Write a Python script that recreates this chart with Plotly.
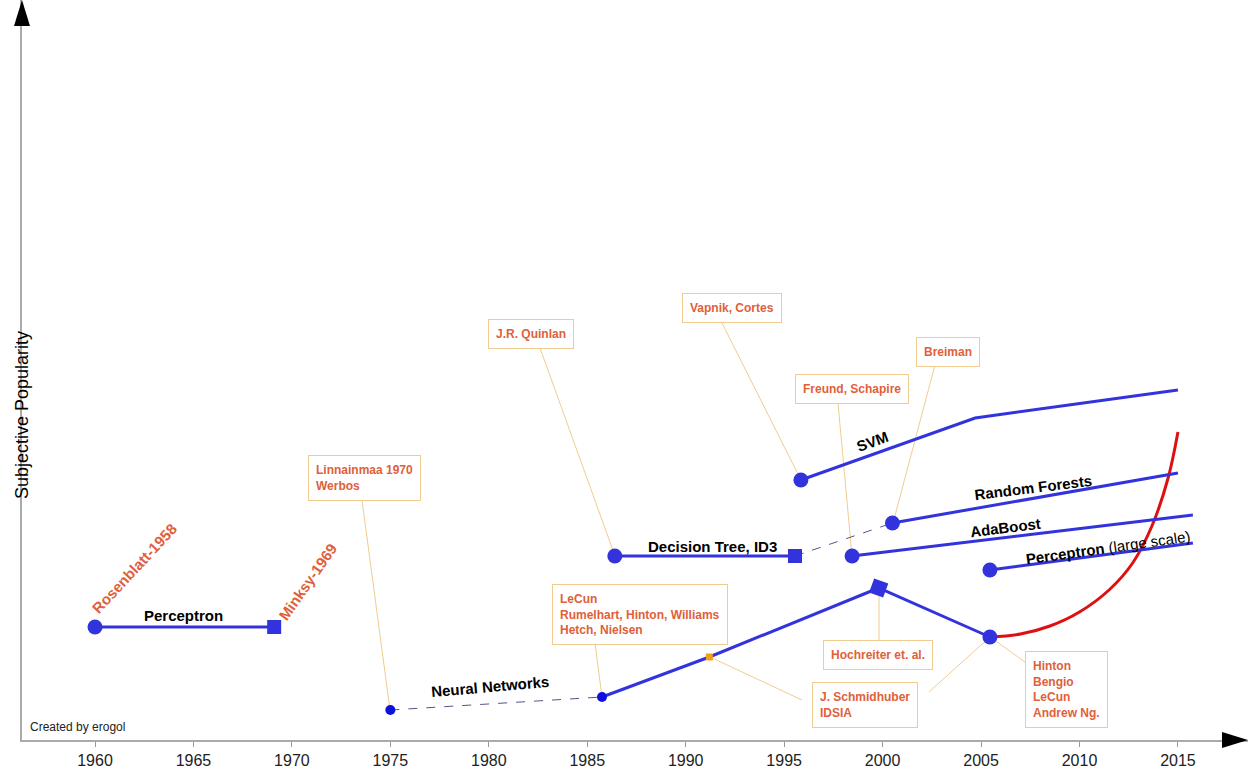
import plotly.graph_objects as go
import numpy as np

BLUE = '#3333dd'
ORANGE = '#e0603a'
LEAD = '#f0cc90'

perc_x = [1960.0, 1969.1]
perc_y = [113, 113]
nn_dot_x = [1975.0, 1985.75]
nn_dot_y = [30, 43]
nn_x = [1985.75, 1991.2, 1999.8, 2005.45]
nn_y = [43, 83, 152, 103]
deep_x = [2005.45, 2007, 2008.5, 2010, 2011.5, 2012.7, 2013.7, 2014.5, 2015]
deep_y = [103, 106, 114, 128, 150, 177, 215, 262, 308]
dt_x = [1986.4, 1995.55]
dt_y = [184, 184]
dt_dash_x = [1995.55, 2000.5]
dt_dash_y = [184, 217]
svm_x = [1995.85, 2004.7, 2015]
svm_y = [260, 322, 350]
rf_x = [2000.5, 2015]
rf_y = [217, 267]
ada_x = [1998.45, 2015.76]
ada_y = [184, 225]
pl_x = [2005.45, 2015.76]
pl_y = [170, 197]

years = [1960, 1965, 1970, 1975, 1980, 1985, 1990, 1995, 2000, 2005, 2010, 2015]

# layout helpers: reference pixel -> data coords
def px(x):
    return 1960 + (x - 95) / 19.69

def py(y):
    return 740 - y

# reference pixel -> paper coords (plot area 22..1248, 0..740)
def ppx(x):
    return (x - 22) / 1226

def ppy(y):
    return (740 - y) / 740

fig = go.Figure()

leaders = [
    ((362, 500), (390, 710)), ((540, 348), (615, 556)), ((722, 323), (801, 480)),
    ((838, 403), (852, 556)), ((935, 365), (893, 523)), ((595, 643), (602, 697)),
    ((879, 640), (879, 588)), ((802, 700), (710, 657)), ((929, 692), (990, 637)),
    ((1025, 662), (990, 637)),
]
for a, b in leaders:
    fig.add_trace(go.Scatter(x=[px(a[0]), px(b[0])], y=[py(a[1]), py(b[1])], mode='lines',
                             line=dict(color=LEAD, width=1), hoverinfo='skip'))

def line(x, y, **kw):
    fig.add_trace(go.Scatter(x=x, y=y, hoverinfo='skip', **kw))

line(perc_x, perc_y, mode='lines', line=dict(color=BLUE, width=3))
line(nn_dot_x, nn_dot_y, mode='lines', line=dict(color='#555588', width=1, dash='dash'))
line(nn_x, nn_y, mode='lines', line=dict(color=BLUE, width=3))
line(deep_x, deep_y, mode='lines', line=dict(color='#dd1111', width=3, shape='spline'))
line(dt_x, dt_y, mode='lines', line=dict(color=BLUE, width=3))
line(dt_dash_x, dt_dash_y, mode='lines', line=dict(color='#555588', width=1, dash='dash'))
line(svm_x, svm_y, mode='lines', line=dict(color=BLUE, width=3))
line(rf_x, rf_y, mode='lines', line=dict(color=BLUE, width=3))
line(ada_x, ada_y, mode='lines', line=dict(color=BLUE, width=3))
line(pl_x, pl_y, mode='lines', line=dict(color=BLUE, width=3))

circles_x = [perc_x[0], nn_x[3], dt_x[0], svm_x[0], rf_x[0], ada_x[0], pl_x[0]]
circles_y = [perc_y[0], nn_y[3], dt_y[0], svm_y[0], rf_y[0], ada_y[0], pl_y[0]]
line(circles_x, circles_y, mode='markers', marker=dict(color=BLUE, size=15))
line(nn_dot_x, nn_dot_y, mode='markers', marker=dict(color='#1010dd', size=10))
line([perc_x[1], dt_x[1]], [perc_y[1], dt_y[1]], mode='markers', marker=dict(color=BLUE, size=14, symbol='square'))
line([nn_x[2]], [nn_y[2]], mode='markers', marker=dict(color=BLUE, size=15, symbol='square', angle=20))
line([nn_x[1]], [nn_y[1]], mode='markers', marker=dict(color='#f0a020', size=7, symbol='square'))

ann = []
boxes = [
    (364, 478, 'Linnainmaa 1970<br>Werbos'), (531, 334, 'J.R. Quinlan'),
    (732, 308, 'Vapnik, Cortes'), (852, 389, 'Freund, Schapire'), (948, 352, 'Breiman'),
    (640, 614, 'LeCun<br>Rumelhart, Hinton, Williams<br>Hetch, Nielsen'),
    (878, 655, 'Hochreiter et. al.'), (865, 705, 'J. Schmidhuber<br>IDSIA'),
    (1066, 689, 'Hinton<br>Bengio<br>LeCun<br>Andrew Ng.'),
]
for bx, by, t in boxes:
    ann.append(dict(x=px(bx), y=py(by), text=t, showarrow=False, align='left',
                    font=dict(family='Liberation Sans', size=12, color=ORANGE, weight='bold'),
                    bgcolor='white', bordercolor=LEAD, borderwidth=1, borderpad=7))

labels = [
    (183, 615, 'Perceptron', 0), (490, 686, 'Neural Networks', -5),
    (712, 546, 'Decision Tree, ID3', 0), (872, 441, 'SVM', -20),
    (1033, 487, 'Random Forests', -7), (1005, 527, 'AdaBoost', -7),
]
for lx, ly, t, r in labels:
    ann.append(dict(x=px(lx), y=py(ly), text=t, showarrow=False, textangle=r,
                    font=dict(family='Liberation Sans', size=15, color='black', weight='bold')))
ann.append(dict(x=px(1108), y=py(547), text='<b>Perceptron</b> (large scale)', showarrow=False,
                textangle=-8, font=dict(family='Liberation Sans', size=15, color='black')))
ann.append(dict(x=px(134), y=py(568), text='Rosenblatt-1958', showarrow=False, textangle=-47,
                font=dict(family='Liberation Sans', size=15, color=ORANGE, weight='bold')))
ann.append(dict(x=px(307), y=py(582), text='Minksy-1969', showarrow=False, textangle=-55,
                font=dict(family='Liberation Sans', size=15, color=ORANGE, weight='bold')))
ann.append(dict(x=px(28), y=py(727), text='Created by erogol', showarrow=False, xanchor='left',
                font=dict(family='Liberation Sans', size=12, color='#222')))
ann.append(dict(x=ppx(10), xref='paper', y=ppy(415), yref='paper', text='Subjective Popularity',
                showarrow=False, textangle=-90,
                font=dict(family='Liberation Sans', size=18, color='black')))

# axis arrowheads drawn as triangles
shapes = [
    dict(type='path', xref='paper', yref='paper', fillcolor='black', line=dict(width=0),
         path=f'M {ppx(14)} {ppy(26)} L {ppx(22)} {ppy(0)} L {ppx(30)} {ppy(26)} Z'),
    dict(type='path', xref='paper', yref='paper', fillcolor='black', line=dict(width=0),
         path=f'M {ppx(1222)} {ppy(732)} L {ppx(1248)} {ppy(740)} L {ppx(1222)} {ppy(748)} Z'),
]

fig.update_layout(
    width=1248, height=769, showlegend=False, plot_bgcolor='white', paper_bgcolor='white',
    margin=dict(l=22, r=0, t=0, b=29), annotations=ann, shapes=shapes,
    xaxis=dict(range=[px(22), px(1248)], tickvals=years, ticks='outside', ticklen=5,
               tickcolor='#999', showgrid=False, zeroline=False, showline=True,
               linecolor='#aaa', linewidth=2, automargin=False,
               tickfont=dict(family='Liberation Sans', size=16, color='#222')),
    yaxis=dict(range=[0, 740], showticklabels=False, showgrid=False, zeroline=False,
               showline=True, linecolor='#aaa', linewidth=2, automargin=False),
)
fig.write_html('out.html', config={'displayModeBar': False},
               post_script="document.body.style.margin='0';document.body.style.overflow='hidden';")
